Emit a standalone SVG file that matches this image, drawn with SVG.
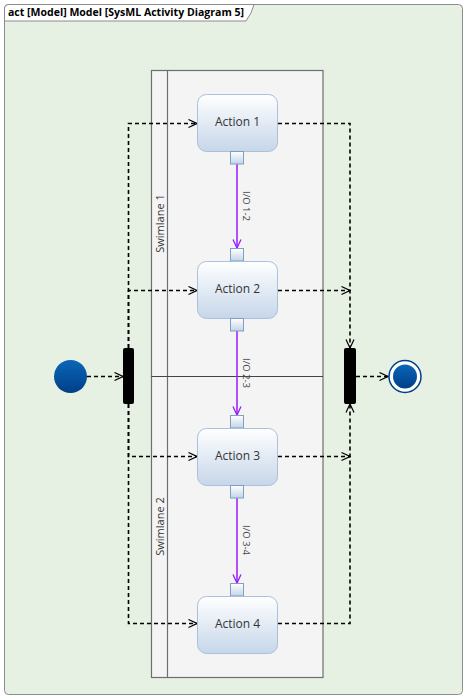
<svg xmlns="http://www.w3.org/2000/svg" width="467" height="700" viewBox="0 0 467 700">
<style>
.frame{fill:#e6f0e3;stroke:#8c8c8c;stroke-width:1}
.tab{fill:#ffffff;stroke:#8c8c8c;stroke-width:1}
.title{font-family:"Open Sans","Noto Sans",sans-serif;font-size:11px;font-weight:bold;fill:#000}
.lane{fill:#f4f4f4;stroke:#6e6e6e;stroke-width:1.2}
.lanelbl{font-family:"Open Sans","Noto Sans",sans-serif;font-size:11px;fill:#333}
.act{fill:url(#ag);stroke:#a9c1dc;stroke-width:1}
.albl{font-family:"Open Sans","Noto Sans",sans-serif;font-size:12px;fill:#333;text-anchor:middle}
.pin{fill:url(#pg);stroke:#7f9fc3;stroke-width:1}
.ctl{fill:none;stroke:#000;stroke-width:1.6;stroke-dasharray:4 3}
.obj{fill:none;stroke:#9a1cff;stroke-width:1.5}
.iolbl{font-family:"Open Sans","Noto Sans",sans-serif;font-size:9.5px;fill:#444;text-anchor:middle}
.bar{fill:#000}
</style>
<defs>
<linearGradient id="ag" x1="0" y1="0" x2="0" y2="1">
<stop offset="0" stop-color="#ffffff"/>
<stop offset="1" stop-color="#c6d6e9"/>
</linearGradient>
<linearGradient id="pg" x1="0" y1="0" x2="0" y2="1">
<stop offset="0" stop-color="#ffffff"/>
<stop offset="1" stop-color="#c3d4e8"/>
</linearGradient>
<linearGradient id="ng" x1="0" y1="0" x2="0" y2="1">
<stop offset="0" stop-color="#0a66b8"/>
<stop offset="1" stop-color="#003f87"/>
</linearGradient>
<marker id="ah" viewBox="0 0 10 10" refX="9.5" refY="5" markerWidth="10" markerHeight="10" markerUnits="userSpaceOnUse" orient="auto">
<path d="M1,1 L9.5,5 L1,9" fill="none" stroke="#000" stroke-width="1.2"/>
</marker>
<marker id="ap" viewBox="0 0 10 10" refX="9.5" refY="5" markerWidth="10" markerHeight="10" markerUnits="userSpaceOnUse" orient="auto">
<path d="M1,1 L9.5,5 L1,9" fill="none" stroke="#9a1cff" stroke-width="1.3"/>
</marker>
</defs>
<g id="frame">
<rect class="frame" x="4.5" y="4.5" width="458" height="690" rx="4"/>
<path class="tab" d="M4.5,21 V9 Q4.5,4.5 9,4.5 H254 Q252,13 246,21 Z"/>
<text class="title" x="8" y="16" textLength="236" lengthAdjust="spacingAndGlyphs">act [Model] Model [SysML Activity Diagram 5]</text>
</g>
<g id="swimlanes">
<rect class="lane" x="151.5" y="70.5" width="171.5" height="607"/>
<line x1="167.5" y1="70.5" x2="167.5" y2="677.5" stroke="#6e6e6e" stroke-width="1.2"/>
<line x1="151.5" y1="376.5" x2="323" y2="376.5" stroke="#444" stroke-width="1.2"/>
<text class="lanelbl" transform="translate(163.5,223.5) rotate(-90)" text-anchor="middle">Swimlane 1</text>
<text class="lanelbl" transform="translate(163.5,526.5) rotate(-90)" text-anchor="middle">Swimlane 2</text>
</g>
<g id="connectors">
<path class="ctl" d="M87,376.5 H123" marker-end="url(#ah)"/>
<path class="ctl" d="M128.5,348 V123.5 H197" marker-end="url(#ah)"/>
<path class="ctl" d="M128.5,348 V290.5 H197" marker-end="url(#ah)"/>
<path class="ctl" d="M128.5,404 V456.5 H197" marker-end="url(#ah)"/>
<path class="ctl" d="M128.5,404 V623.5 H197" marker-end="url(#ah)"/>
<path class="ctl" d="M278,123.5 H350 V348" marker-end="url(#ah)"/>
<path class="ctl" d="M278,290.5 H350" marker-end="url(#ah)"/>
<path class="ctl" d="M278,456.5 H350" marker-end="url(#ah)"/>
<path class="ctl" d="M278,623.5 H350 V404" marker-end="url(#ah)"/>
<path class="ctl" d="M356,376.5 H388" marker-end="url(#ah)"/>
<path class="obj" d="M237,164 V248" marker-end="url(#ap)"/>
<path class="obj" d="M237,331 V415" marker-end="url(#ap)"/>
<path class="obj" d="M237,498 V583" marker-end="url(#ap)"/>
<text class="iolbl" transform="translate(243,206) rotate(90)">I/O 1-2</text>
<text class="iolbl" transform="translate(243,373) rotate(90)">I/O 2-3</text>
<text class="iolbl" transform="translate(243,540) rotate(90)">I/O 3-4</text>
</g>
<g id="initial"><circle cx="70.5" cy="376.5" r="16.5" fill="url(#ng)"/></g>
<g id="fork"><rect class="bar" x="123" y="348" width="11" height="56" rx="2"/></g>
<g id="join"><rect class="bar" x="344" y="348" width="12" height="56" rx="2"/></g>
<g id="final">
<circle cx="405" cy="376.5" r="16" fill="#fff" stroke="#003f87" stroke-width="1.5"/>
<circle cx="405" cy="376.5" r="12" fill="url(#ng)"/>
</g>
<g id="action1">
<rect class="act" x="197.5" y="94.5" width="80" height="57" rx="9"/>
<text class="albl" x="237.5" y="126">Action 1</text>
<rect class="pin" x="230.5" y="151.5" width="13" height="12.5"/>
</g>
<g id="action2">
<rect class="pin" x="230.5" y="248.5" width="13" height="12.5"/>
<rect class="act" x="197.5" y="261.5" width="80" height="57" rx="9"/>
<text class="albl" x="237.5" y="293">Action 2</text>
<rect class="pin" x="230.5" y="318.5" width="13" height="12.5"/>
</g>
<g id="action3">
<rect class="pin" x="230.5" y="415.5" width="13" height="12.5"/>
<rect class="act" x="197.5" y="428.5" width="80" height="57" rx="9"/>
<text class="albl" x="237.5" y="460">Action 3</text>
<rect class="pin" x="230.5" y="485.5" width="13" height="12.5"/>
</g>
<g id="action4">
<rect class="pin" x="230.5" y="583.5" width="13" height="12.5"/>
<rect class="act" x="197.5" y="596.5" width="80" height="57" rx="9"/>
<text class="albl" x="237.5" y="628">Action 4</text>
</g>
</svg>
